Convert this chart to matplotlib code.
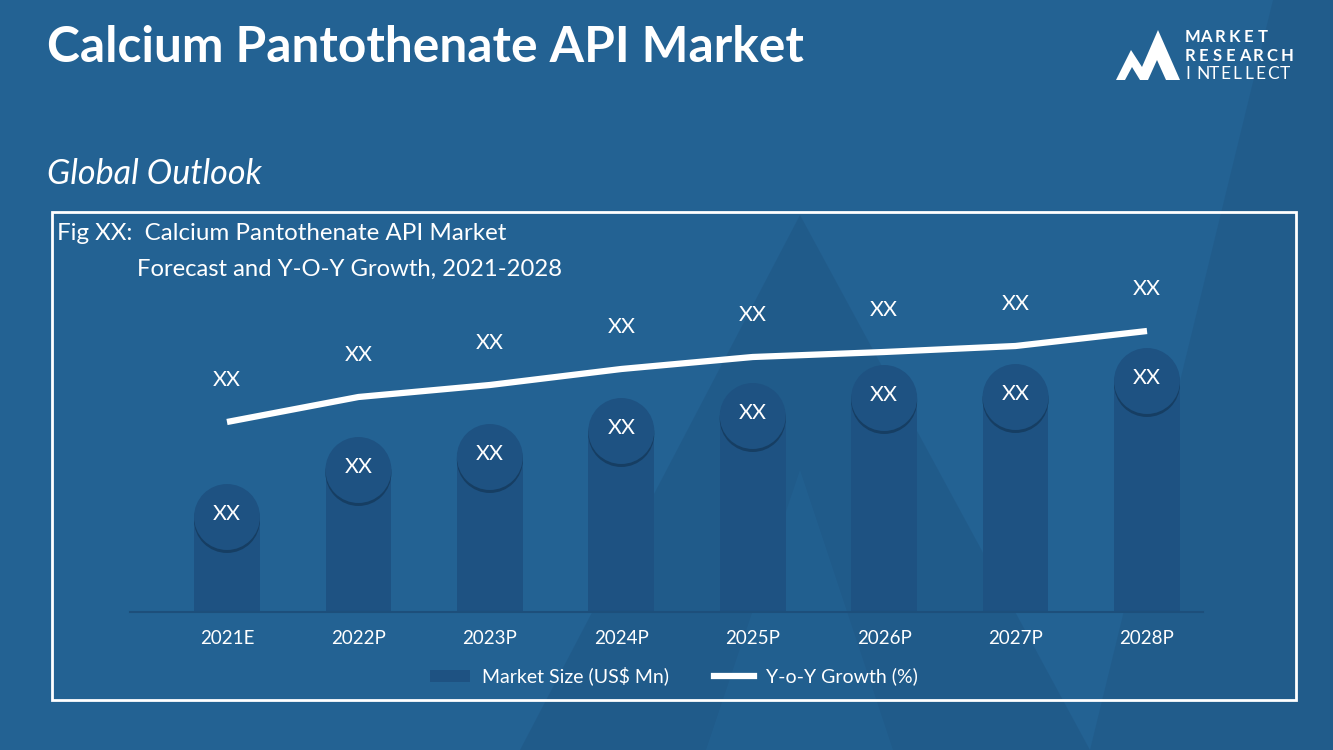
import matplotlib
matplotlib.use('Agg')
import matplotlib.pyplot as plt
from matplotlib.patches import Polygon, Rectangle
from matplotlib.lines import Line2D
import matplotlib.transforms as mtransforms

# Dados do gráfico (unidades arbitrárias)
years = ['2021E', '2022P', '2023P', '2024P', '2025P', '2026P', '2027P', '2028P']
market_size = [95, 142, 155, 181, 196, 214, 215, 231]
yoy_growth = [190, 215, 227, 243, 255, 260, 266, 281]
bar_labels = ['XX'] * len(years)
line_labels = ['XX'] * len(years)

BG = '#236293'
BAR = '#1e5282'
SHADOW = '#163e63'
FONT = 'Lato'

fig = plt.figure(figsize=(13.33, 7.5), dpi=100)
fig.patch.set_facecolor(BG)

# Camada de fundo em coordenadas de pixel
bg = fig.add_axes([0, 0, 1, 1], zorder=0)
bg.set_xlim(0, 1333)
bg.set_ylim(750, 0)
bg.axis('off')

# Triângulos suaves no fundo
bg.add_patch(Polygon([(800, 215), (520, 750), (1090, 750)], closed=True,
                     facecolor='#1d4f7b', alpha=0.35, edgecolor='none'))
bg.add_patch(Polygon([(800, 470), (706, 750), (893, 750)], closed=True,
                     facecolor=BG, alpha=0.6, edgecolor='none'))
bg.add_patch(Polygon([(1273, 0), (1333, 0), (1333, 750), (1090, 750)], closed=True,
                     facecolor='#1d4f7b', alpha=0.3, edgecolor='none'))

# Título
bg.text(47, 47, 'Calcium Pantothenate API Market', color='white', fontsize=35.7,
        fontweight='bold', family=FONT, va='center', ha='left')
bg.text(47, 174, 'Global Outlook', color='white', fontsize=24.6,
        style='italic', family=FONT, va='center', ha='left')

# Logo
bg.add_patch(Polygon([(1116, 80), (1131, 50), (1142, 67), (1158, 30), (1180, 80),
                      (1166, 80), (1157, 60), (1148, 80), (1140, 80), (1132, 67),
                      (1125, 80)], closed=True, facecolor='white', edgecolor='none'))
for word, y, pitch, weight, size in [('MARKET', 37, 14.6, 'bold', 12),
                                     ('RESEARCH', 56, 13.6, 'bold', 12),
                                     ('INTELLECT', 74, 11.8, 'normal', 12.5)]:
    for i, ch in enumerate(word):
        bg.text(1185 + i * pitch, y, ch, color='white', fontsize=size,
                fontweight=weight, family=FONT, va='center', ha='left')

# Moldura branca
bg.add_patch(Rectangle((52, 212), 1244, 488, fill=False, edgecolor='white', linewidth=2))
bg.text(57, 233, 'Fig XX:  Calcium Pantothenate API Market', color='white',
        fontsize=17.4, family=FONT, va='center', ha='left')
bg.text(137, 269, 'Forecast and Y-O-Y Growth, 2021-2028', color='white',
        fontsize=17.2, family=FONT, va='center', ha='left')

# Legenda
bg.add_patch(Rectangle((430, 670), 40, 12, facecolor=BAR, edgecolor='none'))
bg.text(482, 676, 'Market Size (US$ Mn)', color='white', fontsize=14,
        family=FONT, va='center', ha='left')
bg.add_line(Line2D([714, 754], [676, 676], color='white', linewidth=4.5))
bg.text(766, 676, 'Y-o-Y Growth (%)', color='white', fontsize=14,
        family=FONT, va='center', ha='left')

# Eixo principal
ax = fig.add_axes([130 / 1333, 1 - 612 / 750, 1073 / 1333, 332 / 750], zorder=2)
ax.patch.set_alpha(0)
x = list(range(len(years)))
ax.set_xlim(-0.738, 7.426)
ax.set_ylim(0, 332)

ax.bar(x, market_size, width=0.5, color=BAR, zorder=2)

# Círculos no topo das barras (com sombra)
shadow_tr = mtransforms.offset_copy(ax.transData, fig=fig, x=0, y=-3, units='dots')
ax.scatter(x, market_size, s=2256, color=SHADOW, zorder=3, transform=shadow_tr,
           edgecolors='none')
ax.scatter(x, market_size, s=2256, color=BAR, zorder=4, edgecolors='none')
for xi, yi, lab in zip(x, market_size, bar_labels):
    ax.text(xi, yi + 3, lab, color='white', fontsize=15.5, family=FONT,
            ha='center', va='center', zorder=5)

# Linha de crescimento
ax.plot(x, yoy_growth, color='white', linewidth=4.5, zorder=6, solid_capstyle='butt')
for xi, yi, lab in zip(x, yoy_growth, line_labels):
    ax.annotate(lab, (xi, yi), xytext=(0, 30), textcoords='offset points',
                color='white', fontsize=15.5, family=FONT, ha='center', va='center')

for side in ['top', 'right', 'left']:
    ax.spines[side].set_visible(False)
ax.spines['bottom'].set_color('#1d4f7b')
ax.spines['bottom'].set_linewidth(1.5)
ax.set_yticks([])
ax.set_xticks(x)
ax.set_xticklabels(years, color='white', fontsize=13.5, family=FONT)
ax.tick_params(axis='x', length=0, pad=13)

fig.savefig('out.png', dpi=100, facecolor=BG)
